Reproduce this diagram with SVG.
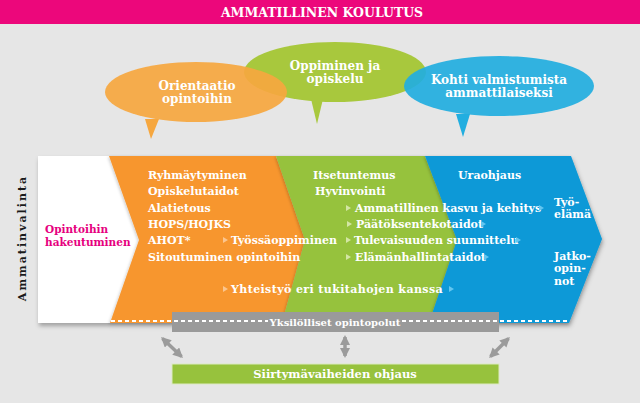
<svg xmlns="http://www.w3.org/2000/svg" xmlns:xlink="http://www.w3.org/1999/xlink" width="640" height="403" viewBox="0 0 640 403">
<style>
text{font-family:"DejaVu Serif","Liberation Serif",serif;font-weight:bold;}
.w{fill:#fff;font-size:11px;}
.bub{fill:#fff;font-size:12px;text-anchor:middle;}
.pk{fill:#E6007E;font-size:10.5px;}
.tp{fill:#FBC58E;}
.tg{fill:#D3E6A4;}
.tb{fill:#63C6F0;}
.arr{stroke:#9B9B9B;stroke-width:3.5;fill:none;marker-start:url(#ah);marker-end:url(#ah);}
.dash{stroke:#fff;stroke-width:2;stroke-dasharray:4 3;fill:none;}
</style>
<defs>
<filter id="sh" x="-10%" y="-10%" width="120%" height="125%">
<feDropShadow dx="1" dy="3" stdDeviation="2" flood-color="#000" flood-opacity="0.3"/>
</filter>
<filter id="sh2" x="-10%" y="-10%" width="120%" height="125%">
<feDropShadow dx="-1" dy="1" stdDeviation="1.5" flood-color="#000" flood-opacity="0.2"/>
</filter>
<marker id="ah" viewBox="0 0 10 10" refX="8" refY="5" markerWidth="10" markerHeight="10" markerUnits="userSpaceOnUse" orient="auto-start-reverse">
<path d="M0,0 L10,5 L0,10 Z" fill="#9B9B9B"/>
</marker>
<path id="tri" d="M0,-3 L5,0 L0,3 Z"/>
</defs>
<rect width="640" height="403" fill="#E6E6E6"/>
<g id="header">
<rect x="0" y="0" width="640" height="24" fill="#EC077B"/>
<text x="322" y="17" text-anchor="middle" fill="#fff" font-size="12.5">AMMATILLINEN KOULUTUS</text>
</g>
<g id="bubble-oppiminen">
<ellipse cx="335" cy="72" rx="91" ry="30" fill="#A8C83D"/>
<path d="M311,99 L323,99 L317,124 Z" fill="#A8C83D"/>
<text class="bub" x="335" y="70">Oppiminen ja</text>
<text class="bub" x="335" y="83">opiskelu</text>
</g>
<g id="bubble-orientaatio">
<ellipse cx="196" cy="92" rx="91" ry="30" fill="#F6A73F" fill-opacity="0.92"/>
<path d="M145,119 L159,119 L151,139 Z" fill="#F6A73F"/>
<text class="bub" x="197" y="90">Orientaatio</text>
<text class="bub" x="197" y="103">opintoihin</text>
</g>
<g id="bubble-kohti">
<ellipse cx="499" cy="86" rx="95" ry="30" fill="#22AEE0" fill-opacity="0.92"/>
<path d="M456,114 L470,114 L463,137 Z" fill="#22AEE0"/>
<text class="bub" x="499" y="84">Kohti valmistumista</text>
<text class="bub" x="499" y="97">ammattilaiseksi</text>
</g>
<g id="band" filter="url(#sh)">
<g id="stage-haku">
<rect x="38" y="156" width="110" height="167" fill="#fff"/>
</g>
<g id="stage-orange" filter="url(#sh2)">
<polygon points="109,156 276,156 305,240 282,323 110,323 139,240" fill="#F7962F"/>
</g>
<g id="stage-green" filter="url(#sh2)">
<polygon points="276,156 425,156 457,240 429,323 282,323 305,240" fill="#96C23C"/>
</g>
<g id="stage-blue" filter="url(#sh2)">
<polygon points="425,156 571,156 602,239 569,323 429,323 457,240" fill="#0899D7"/>
</g>
</g>
<g id="label-ammatinvalinta">
<text x="26" y="238" transform="rotate(-90 26 238)" text-anchor="middle" fill="#1a1a1a" font-size="11" letter-spacing="2">Ammatinvalinta</text>
</g>
<g id="text-haku">
<text class="pk" x="45" y="233">Opintoihin</text>
<text class="pk" x="45" y="246">hakeutuminen</text>
</g>
<g id="text-orange">
<text class="w" x="148" y="179">Ryhmäytyminen</text>
<text class="w" x="148" y="195">Opiskelutaidot</text>
<text class="w" x="148" y="212">Alatietous</text>
<text class="w" x="148" y="228">HOPS/HOJKS</text>
<text class="w" x="148" y="244">AHOT*</text>
<text class="w" x="148" y="261">Sitoutuminen opintoihin</text>
<use xlink:href="#tri" class="tp" x="223" y="240"/>
<text class="w" x="231" y="244">Työssäoppiminen</text>
</g>
<g id="text-green">
<text class="w" x="313" y="179">Itsetuntemus</text>
<text class="w" x="315" y="195">Hyvinvointi</text>
<use xlink:href="#tri" class="tg" x="346" y="208"/>
<text class="w" x="355" y="212">Ammatillinen kasvu ja kehitys</text>
<use xlink:href="#tri" class="tg" x="347" y="224"/>
<text class="w" x="356" y="228">Päätöksentekotaidot</text>
<use xlink:href="#tri" class="tg" x="346" y="240"/>
<text class="w" x="354" y="244">Tulevaisuuden suunnittelu</text>
<use xlink:href="#tri" class="tg" x="346" y="257"/>
<text class="w" x="355" y="261">Elämänhallintataidot</text>
</g>
<g id="text-blue">
<text class="w" x="458" y="179">Uraohjaus</text>
<use xlink:href="#tri" class="tb" x="539" y="208"/>
<use xlink:href="#tri" class="tb" x="481" y="224"/>
<use xlink:href="#tri" class="tb" x="516" y="240"/>
<use xlink:href="#tri" class="tb" x="484" y="257"/>
<text class="w" x="554" y="206">Työ-</text>
<text class="w" x="554" y="218">elämä</text>
<text class="w" x="554" y="260">Jatko-</text>
<text class="w" x="554" y="272">opin-</text>
<text class="w" x="554" y="285">not</text>
</g>
<g id="text-yhteistyo">
<use xlink:href="#tri" class="tp" x="223" y="289"/>
<text class="w" x="231" y="293" font-size="12" letter-spacing="0.4">Yhteistyö eri tukitahojen kanssa</text>
<use xlink:href="#tri" class="tb" x="449" y="289"/>
</g>
<g id="box-yksilolliset">
<rect x="172" y="312" width="327" height="20" fill="#9A9A9A"/>
<text x="335" y="326" text-anchor="middle" fill="#fff" font-size="10">Yksilölliset opintopolut</text>
</g>
<g id="box-siirtyma">
<rect x="172" y="364" width="327" height="20" fill="#97C23D" stroke="#DCE9C2" stroke-width="1"/>
<text x="335" y="378" text-anchor="middle" fill="#fff" font-size="11.5">Siirtymävaiheiden ohjaus</text>
</g>
<g id="connectors">
<path class="dash" d="M111,321 H268"/>
<path class="dash" d="M402,321 H568"/>
<path class="arr" d="M162.5,338.4 L181.5,356.6"/>
<path class="arr" d="M345,337 L345,356"/>
<path class="arr" d="M508.5,338.4 L490.5,356.6"/>
</g>
</svg>
